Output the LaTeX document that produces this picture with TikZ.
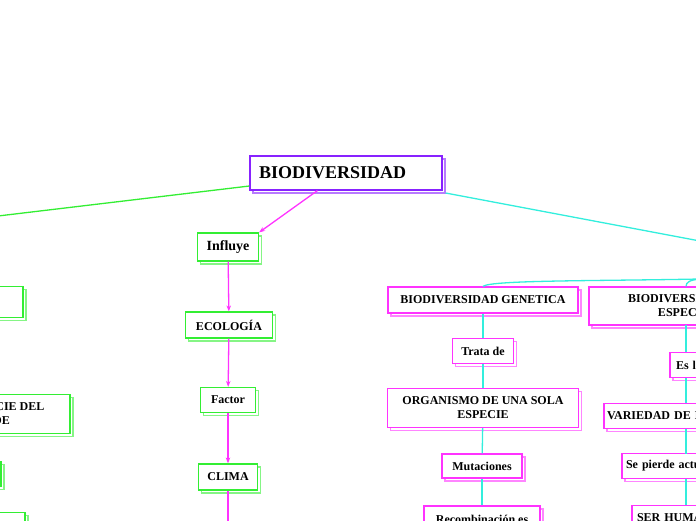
\documentclass[tikz,border=0pt]{standalone}
\usepackage{fontspec}
\setmainfont{Liberation Serif}
\usetikzlibrary{shadows,arrows.meta}
\definecolor{mg}{HTML}{FF33FF}
\definecolor{gr}{HTML}{33EE33}
\definecolor{cyn}{HTML}{33EEDD}
\definecolor{vio}{HTML}{8822FF}
\begin{document}
\begin{tikzpicture}[x=1pt,y=-1pt,
  bx/.style={draw=#1,fill=white,line width=1.2pt,align=center,inner sep=0pt,font=\bfseries\fontsize{12}{14}\selectfont,
    copy shadow={shadow xshift=3pt,shadow yshift=-3pt,draw=#1!60,fill=white}},
  gbox/.style={bx=gr},
  mbox/.style={bx=mg},
  mar/.style={draw=mg,line width=1.3pt,-{Stealth[length=6pt]}},
  cy/.style={draw=cyn,line width=1.3pt},
  gl/.style={draw=gr,line width=1.3pt}]
\useasboundingbox (0,0) rectangle (696,520);
\clip (0,0) rectangle (696,520);
\node[bx=vio,minimum width=192pt,minimum height=34pt,font=\bfseries\fontsize{18}{20}\selectfont,text width=180pt,align=left] (bio) at (346,173) {\hspace*{3pt}BIODIVERSIDAD};
\node[gbox,minimum width=61pt,minimum height=28pt,font=\bfseries\fontsize{14}{16}\selectfont] (inf) at (228,247) {Influye};
\node[gbox,minimum width=87pt,minimum height=26pt] (eco) at (229,325) {ECOLOGÍA};
\node[gbox,minimum width=55pt,minimum height=25pt] (fac) at (228,400) {Factor};
\node[gbox,minimum width=59pt,minimum height=26pt] (cli) at (228,477) {CLIMA};
\coordinate (cend) at (228,525);
\draw[mar] (bio.south west) ++(68,0) -- (inf.north east);
\draw[mar] (inf) -- (eco);
\draw[mar] (eco) -- (fac);
\draw[mar] (fac) -- (cli);
\draw[draw=mg,line width=1.3pt] (cli.south) -- (cend);
% left partial boxes
\node[gbox,minimum width=80pt,minimum height=31pt] (l1) at (-17,302) {};
\node[gbox,minimum width=220pt,minimum height=39pt] (l2) at (-40,414) {CONJUNTO DE ESPECIE DEL\\ECOSISTEMA DE};
\node[gbox,minimum width=80pt,minimum height=25pt] (l3) at (-39,474) {};
\node[gbox,minimum width=80pt,minimum height=25pt] (l4) at (-15,525) {};
\coordinate (lend) at (-2,216);
\draw[gl] (bio.west) ++(0,13) -- (lend);
% right
\coordinate (rend) at (700,241);
\draw[cy] (bio.east) ++(3,20) -- (rend);
\node[mbox,minimum width=190pt,minimum height=26pt] (gen) at (483,300) {BIODIVERSIDAD GENETICA};
\node[mbox,minimum width=61pt,minimum height=25pt] (tra) at (483,351) {Trata de};
\node[mbox,minimum width=191pt,minimum height=39pt] (org) at (483,408) {ORGANISMO DE UNA SOLA\\ESPECIE};
\node[mbox,minimum width=80pt,minimum height=24pt] (mut) at (482,466) {Mutaciones};
\node[mbox,minimum width=116pt,minimum height=26pt] (rec) at (482,519) {Recombinación es};
\node[mbox,minimum width=196pt,minimum height=38pt] (esp) at (687,306) {BIODIVERSIDAD DE\\ESPECIES};
\node[mbox,minimum width=40pt,minimum height=25pt,text width=40pt,align=left] (es) at (690,365) {\hspace*{6pt}Es la};
\node[mbox,minimum width=170pt,minimum height=25pt,text width=164pt,align=left] (var) at (689,416) {VARIEDAD DE ESPECIES};
\node[mbox,minimum width=140pt,minimum height=25pt,text width=132pt,align=left] (sep) at (692,466) {Se pierde actualmente};
\node[mbox,minimum width=110pt,minimum height=25pt,text width=100pt,align=left] (ser) at (687,518) {SER HUMANO};
\coordinate (hub) at (700,279);
\draw[cy] (hub) .. controls (600,281) and (490,280) .. (gen.north);
\draw[cy] (hub) .. controls (690,280) and (686,282) .. (esp.north -| 686,0);
\draw[cy] (gen) -- (tra); \draw[cy] (tra) -- (org); \draw[cy] (org) -- (mut); \draw[cy] (mut) -- (rec);
\draw[cy] (686,325) -- (686,352); \draw[cy] (686,378) -- (686,403);
\draw[cy] (686,429) -- (686,454); \draw[cy] (686,479) -- (686,505);
\end{tikzpicture}
\end{document}
